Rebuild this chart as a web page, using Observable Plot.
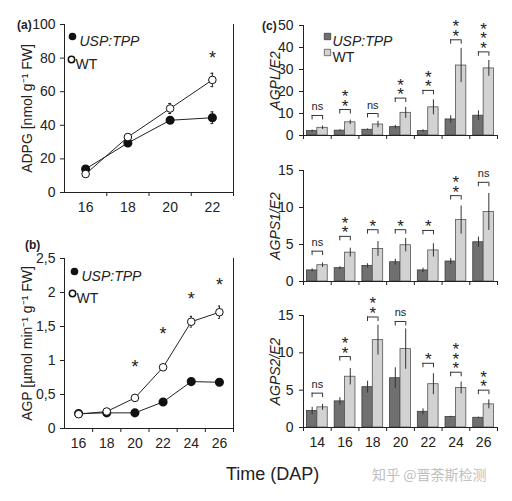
<!DOCTYPE html>
<html><head><meta charset="utf-8">
<script src="https://cdn.jsdelivr.net/npm/d3@7"></script>
<script src="https://cdn.jsdelivr.net/npm/@observablehq/plot@0.6"></script>
<style>
body{margin:0;background:#fff;}
#wrap{position:relative;width:512px;height:501px;overflow:hidden;background:#fff;font-family:"Liberation Sans",Arial,sans-serif;color:#222;}
.p{position:absolute;}
.tag{position:absolute;font-weight:bold;font-size:12px;line-height:1;}
#xt{position:absolute;left:226px;top:465px;font-size:18px;line-height:1;}
#wm{position:absolute;left:372px;top:467px;font-size:14px;line-height:1;color:#c0c0c0;font-family:"Noto Sans CJK SC",sans-serif;}
</style></head><body><div id="wrap">
<div class="tag" style="left:17px;top:19px">(a)</div>
<div class="tag" style="left:25px;top:239px">(b)</div>
<div class="tag" style="left:262px;top:20px">(c)</div>
<div id="xt">Time (DAP)</div>
<div id="wm">知乎 @晋荼斯检测</div>
</div>
<script>
// ---- Panel (a): ADPG ----
const daysA = [16, 18, 20, 22];
const adpgTPP = [14, 29.5, 43, 44.5];
const adpgTPPerr = [1.5, 1.5, 1.5, 3.5];
const adpgWT = [11, 33, 50, 67];
const adpgWTerr = [1, 1.5, 3, 4];
const adpgStarDays = [22];
const adpgStarY = [83];
const adpgYTicks = [0, 20, 40, 60, 80, 100];

// ---- Panel (b): AGP ----
const daysB = [16, 18, 20, 22, 24, 26];
const agpTPP = [0.22, 0.23, 0.23, 0.39, 0.69, 0.68];
const agpTPPerr = [0.02, 0.02, 0.02, 0.02, 0.02, 0.02];
const agpWT = [0.21, 0.25, 0.45, 0.90, 1.57, 1.71];
const agpWTerr = [0.02, 0.02, 0.02, 0.03, 0.08, 0.09];
const agpStarDays = [20, 22, 24, 26];
const agpStarY = [0.98, 1.46, 1.97, 2.18];
const agpYTicks = [0, 0.5, 1, 1.5, 2, 2.5];

// ---- Panel (c): expression ----
const daysC = [14, 16, 18, 20, 22, 24, 26];
const agplTPP = [2.0, 2.2, 2.6, 3.8, 2.0, 7.3, 9.0];
const agplTPPerr = [0.5, 0.4, 0.4, 0.8, 0.6, 1.7, 2.2];
const agplWT = [3.5, 6.0, 5.0, 10.3, 12.8, 31.8, 30.5];
const agplWTerr = [0.8, 1.0, 1.5, 2.5, 3.4, 7.8, 3.6];
const agplSig = ["ns", "**", "ns", "**", "**", "**", "***"];
const agplLevel = [9.1, 11.8, 10, 17, 20.5, 43.5, 38];
const agplYTicks = [0, 10, 20, 30, 40, 50];

const agps1TPP = [1.5, 1.8, 2.1, 2.6, 1.5, 2.7, 5.3];
const agps1TPPerr = [0.2, 0.2, 0.3, 0.4, 0.3, 0.4, 0.7];
const agps1WT = [2.2, 3.9, 4.4, 4.9, 4.2, 8.3, 9.4];
const agps1WTerr = [0.3, 0.6, 1.0, 0.9, 0.9, 1.9, 2.5];
const agps1Sig = ["ns", "**", "*", "*", "*", "**", "ns"];
const agps1Level = [4.1, 6.1, 7.0, 7.0, 6.9, 11.6, 13.4];
const agps1YTicks = [0, 5, 10, 15];

const agps2TPP = [2.2, 3.5, 5.4, 6.6, 2.1, 1.4, 1.3];
const agps2TPPerr = [0.5, 0.5, 0.8, 1.4, 0.4, 0.1, 0.1];
const agps2WT = [2.7, 6.8, 11.7, 10.5, 5.8, 5.3, 3.1];
const agps2WTerr = [0.4, 1.1, 2.0, 2.7, 1.4, 0.8, 0.6];
const agps2Sig = ["ns", "**", "**", "ns", "*", "***", "**"];
const agps2Level = [4.6, 9.5, 14.8, 14.2, 8.6, 7.4, 5.0];
const agps2YTicks = [0, 5, 10, 15];

const FONT = "'Liberation Sans', Arial, sans-serif";
const INK = "#222";
const wrap = document.getElementById("wrap");

function place(svg, left, top) {
  svg.classList.add("p");
  svg.style.left = left + "px";
  svg.style.top = top + "px";
  wrap.appendChild(svg);
}

function odd(a, b) { const r = []; for (let v = a; v <= b; v += 2) r.push(v); return r; }

function linePanel(o) {
  const tpp = o.days.map((d, i) => ({day: d, v: o.tpp[i], e: o.tppErr[i]}));
  const wt = o.days.map((d, i) => ({day: d, v: o.wt[i], e: o.wtErr[i]}));
  const all = tpp.concat(wt);
  const stars = o.starDays.map((d, i) => ({day: d, y: o.starY[i]}));
  return Plot.plot({
    width: o.width, height: o.height,
    marginTop: o.m[0], marginRight: o.m[1], marginBottom: o.m[2], marginLeft: o.m[3],
    style: {fontFamily: FONT, fontSize: "14px", background: "none", overflow: "visible", color: INK},
    x: {domain: o.xDomain},
    y: {domain: [o.yTicks[0], o.yTicks[o.yTicks.length - 1]]},
    marks: [
      Plot.ruleY([o.yTicks[0]], {stroke: INK}),
      Plot.ruleX(o.xDomain, {stroke: INK}),
      Plot.axisY({ticks: o.yTicks, tickSize: 4, tickPadding: 5, tickFormat: o.yFmt, label: null, stroke: INK}),
      Plot.axisX({ticks: odd(o.xDomain[0] + 2, o.xDomain[1]), tickSize: 4, tickFormat: () => "", label: null, stroke: INK}),
      Plot.axisX({ticks: o.days, tickSize: 0, tickPadding: 10, label: null}),
      Plot.text([o.yLabel], {frameAnchor: "left", text: d => d, textAnchor: "middle", rotate: -90, dx: -37, fontSize: 14}),
      Plot.line(tpp, {x: "day", y: "v", stroke: INK, strokeWidth: 1}),
      Plot.line(wt, {x: "day", y: "v", stroke: INK, strokeWidth: 1}),
      Plot.ruleX(all, {x: "day", y1: d => d.v - d.e, y2: d => d.v + d.e, stroke: INK}),
      Plot.ruleY(all, {y: d => d.v + d.e, x1: d => d.day - 0.07, x2: d => d.day + 0.07, stroke: INK}),
      Plot.ruleY(all, {y: d => d.v - d.e, x1: d => d.day - 0.07, x2: d => d.day + 0.07, stroke: INK}),
      Plot.dot(tpp, {x: "day", y: "v", r: 3.8, fill: "#111", stroke: "#111"}),
      Plot.dot(wt, {x: "day", y: "v", r: 3.8, fill: "white", stroke: "#111", strokeWidth: 1}),
      Plot.text(stars, {x: "day", y: "y", text: () => "*", fontSize: 18, dy: 5}),
      // legend
      Plot.dot([0], {frameAnchor: "top-left", dx: o.leg[0], dy: o.leg[1], r: 3.8, fill: "#111"}),
      Plot.text(["USP:TPP"], {frameAnchor: "top-left", dx: o.leg[0] + 7, dy: o.leg[1], text: d => d, textAnchor: "start", fontStyle: "italic", fontSize: 14}),
      Plot.dot([0], {frameAnchor: "top-left", dx: o.leg[2], dy: o.leg[3], r: 3.2, fill: "white", stroke: "#111"}),
      Plot.text(["WT"], {frameAnchor: "top-left", dx: o.leg[2] + 4, dy: o.leg[3], text: d => d, textAnchor: "start", fontSize: 14})
    ]
  });
}

function barPanel(o) {
  const rows = o.days.map((d, i) => ({day: d, a: o.tpp[i], ae: o.tppErr[i], b: o.wt[i], be: o.wtErr[i]}));
  const sig = o.days.map((d, i) => ({day: d, label: o.sig[i], level: o.level[i]}));
  const yMax = o.yTicks[o.yTicks.length - 1];
  const leg = yMax * 0.04;
  const W = 0.75, H = 0.38;
  const xDomain = [o.days[0] - 1, o.days[o.days.length - 1] + 1];
  const marks = [
    Plot.rectY(rows, {x1: d => d.day - W, x2: d => d.day, y: "a", fill: "#707070", stroke: "#3c3c3c", strokeWidth: 0.8}),
    Plot.rectY(rows, {x1: d => d.day, x2: d => d.day + W, y: "b", fill: "#d2d2d2", stroke: "#555", strokeWidth: 0.8}),
    Plot.ruleX(rows, {x: d => d.day - W / 2, y1: d => d.a - d.ae, y2: d => d.a + d.ae, stroke: "#333"}),
    Plot.ruleX(rows, {x: d => d.day + W / 2, y1: d => d.b - d.be, y2: d => d.b + d.be, stroke: "#333"}),
    Plot.ruleY([0], {stroke: INK}),
    Plot.ruleX([xDomain[0]], {stroke: INK}),
    Plot.axisY({ticks: o.yTicks, tickSize: 4, tickPadding: 6, label: null, stroke: INK}),
    Plot.axisX({ticks: odd(xDomain[0], xDomain[1]), tickSize: 4, tickFormat: () => "", label: null, stroke: INK}),
    Plot.text([o.yLabel], {frameAnchor: "left", text: d => d, textAnchor: "middle", rotate: -90, dx: -28, fontSize: 14, fontStyle: "italic"}),
    // significance brackets
    Plot.ruleY(sig, {y: "level", x1: d => d.day - H, x2: d => d.day + H, stroke: "#333"}),
    Plot.ruleX(sig, {x: d => d.day - H, y1: "level", y2: d => d.level - leg, stroke: "#333"}),
    Plot.ruleX(sig, {x: d => d.day + H, y1: "level", y2: d => d.level - leg, stroke: "#333"}),
    Plot.text(sig.filter(d => d.label !== "ns"), {x: "day", y: "level", text: d => d.label.split("").join("\n"), lineAnchor: "bottom", lineHeight: 0.56, fontSize: 17, dy: 2}),
    Plot.text(sig.filter(d => d.label === "ns"), {x: "day", y: "level", text: "label", lineAnchor: "bottom", fontSize: 11, dy: -5})
  ];
  if (o.labels) marks.push(Plot.axisX({ticks: o.days, tickSize: 0, tickPadding: 10, label: null}));
  if (o.legend) {
    marks.push(
      Plot.dot([0], {frameAnchor: "top-left", dx: 24, dy: 11, symbol: "square", r: 3.6, fill: "#707070", stroke: "#3c3c3c", strokeWidth: 0.8}),
      Plot.text(["USP:TPP"], {frameAnchor: "top-left", dx: 29, dy: 11, text: d => d, textAnchor: "start", fontStyle: "italic", fontSize: 14}),
      Plot.dot([0], {frameAnchor: "top-left", dx: 24, dy: 27, symbol: "square", r: 3.6, fill: "#d2d2d2", stroke: "#555", strokeWidth: 0.8}),
      Plot.text(["WT"], {frameAnchor: "top-left", dx: 29, dy: 27, text: d => d, textAnchor: "start", fontSize: 14})
    );
  }
  return Plot.plot({
    width: o.width, height: o.height,
    marginTop: o.m[0], marginRight: o.m[1], marginBottom: o.m[2], marginLeft: o.m[3],
    style: {fontFamily: FONT, fontSize: "14px", background: "none", overflow: "visible", color: INK},
    x: {domain: xDomain},
    y: {domain: [0, yMax]},
    marks
  });
}

place(linePanel({
  days: daysA, tpp: adpgTPP, tppErr: adpgTPPerr, wt: adpgWT, wtErr: adpgWTerr,
  starDays: adpgStarDays, starY: adpgStarY, yTicks: adpgYTicks, yFmt: d => String(d),
  xDomain: [15, 23], yLabel: "ADPG [nmol g⁻¹ FW]",
  width: 250, height: 215, m: [24, 17, 23, 64], leg: [8, 12, 7, 35]
}), 0, 0);

place(linePanel({
  days: daysB, tpp: agpTPP, tppErr: agpTPPerr, wt: agpWT, wtErr: agpWTerr,
  starDays: agpStarDays, starY: agpStarY, yTicks: agpYTicks, yFmt: d => String(d).replace(".", ","),
  xDomain: [15, 27], yLabel: "AGP [µmol min⁻¹ g⁻¹ FW]",
  width: 250, height: 225, m: [30, 17, 25, 64], leg: [10, 13, 8, 35]
}), 0, 228);

place(barPanel({
  days: daysC, tpp: agplTPP, tppErr: agplTPPerr, wt: agplWT, wtErr: agplWTerr,
  sig: agplSig, level: agplLevel, yTicks: agplYTicks, yLabel: "AGPL/E2",
  width: 262, height: 150, m: [25, 15, 15, 53], legend: true
}), 250, 0);

place(barPanel({
  days: daysC, tpp: agps1TPP, tppErr: agps1TPPerr, wt: agps1WT, wtErr: agps1WTerr,
  sig: agps1Sig, level: agps1Level, yTicks: agps1YTicks, yLabel: "AGPS1/E2",
  width: 262, height: 150, m: [25, 15, 14, 53]
}), 250, 145);

place(barPanel({
  days: daysC, tpp: agps2TPP, tppErr: agps2TPPerr, wt: agps2WT, wtErr: agps2WTerr,
  sig: agps2Sig, level: agps2Level, yTicks: agps2YTicks, yLabel: "AGPS2/E2",
  width: 262, height: 165, m: [25, 15, 28, 53], labels: true
}), 250, 290);
</script>
</body></html>
